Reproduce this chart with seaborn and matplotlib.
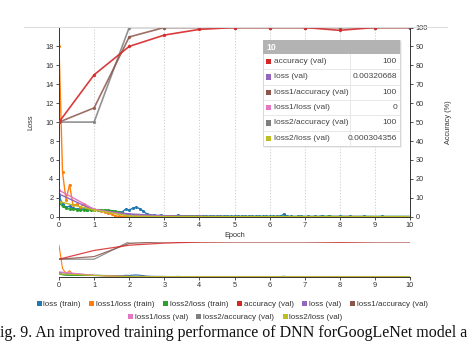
import numpy as np
import pandas as pd
import matplotlib
matplotlib.use("Agg")
import matplotlib.pyplot as plt
from matplotlib.patches import Rectangle
from matplotlib.lines import Line2D
import seaborn as sns

sns.set_theme(style="white")
plt.rcParams['font.family'] = ['Liberation Sans', 'DejaVu Sans']

# ---------------- data ----------------
train_epoch = [round(0.1 * i, 1) for i in range(101)]
loss_train = [2.2, 1.3, 1.0, 1.1, 0.9, 0.8, 0.85, 0.8, 0.75, 0.8,
              0.7, 0.75, 0.7, 0.6, 0.65, 0.55, 0.5, 0.45, 0.5, 0.8,
              0.7, 0.9, 1.0, 0.85, 0.6, 0.3, 0.2, 0.15, 0.12, 0.15,
              0.1, 0.1, 0.08, 0.09, 0.15, 0.08, 0.07, 0.08, 0.06, 0.07,
              0.05, 0.06, 0.05, 0.05, 0.06, 0.04, 0.05, 0.04, 0.05, 0.04,
              0.04, 0.05, 0.04, 0.03, 0.04, 0.04, 0.03, 0.04, 0.03, 0.04,
              0.03, 0.03, 0.04, 0.03, 0.25, 0.03, 0.03, 0.02, 0.03, 0.03,
              0.02, 0.03, 0.02, 0.03, 0.02, 0.1, 0.02, 0.03, 0.02, 0.02,
              0.03, 0.02, 0.02, 0.03, 0.02, 0.02, 0.02, 0.03, 0.02, 0.02,
              0.02, 0.02, 0.03, 0.02, 0.02, 0.02, 0.02, 0.02, 0.02, 0.02,
              0.02]
loss1_loss_train = [18.0, 4.7, 1.8, 3.4, 1.2, 1.3, 1.0, 1.3, 0.9, 0.8,
                    0.75, 0.7, 0.6, 0.5, 0.4, 0.25, 0.1, 0.03, 0.02, 0.02,
                    0.02, 0.01, 0.01, 0.01, 0.01, 0.01, 0.01, 0.01, 0.01, 0.01,
                    0.01, 0.01, 0.01, 0.01, 0.01, 0.01, 0.01, 0.01, 0.01, 0.01,
                    0.0, 0.0, 0.0, 0.0, 0.0, 0.0, 0.0, 0.0, 0.0, 0.0,
                    0.0, 0.0, 0.0, 0.0, 0.0, 0.0, 0.0, 0.0, 0.0, 0.0,
                    0.0, 0.0, 0.0, 0.0, 0.0, 0.0, 0.0, 0.0, 0.0, 0.0,
                    0.0, 0.0, 0.0, 0.0, 0.0, 0.0, 0.0, 0.0, 0.0, 0.0,
                    0.0, 0.0, 0.0, 0.0, 0.0, 0.0, 0.0, 0.0, 0.0, 0.0,
                    0.0, 0.0, 0.0, 0.0, 0.0, 0.0, 0.0, 0.0, 0.0, 0.0,
                    0.0]
loss2_loss_train = [1.5, 1.1, 0.9, 0.8, 0.8, 0.75, 0.72, 0.7, 0.72, 0.7,
                    0.7, 0.68, 0.7, 0.72, 0.68, 0.65, 0.6, 0.5, 0.4, 0.3,
                    0.2, 0.15, 0.1, 0.08, 0.06, 0.05, 0.05, 0.04, 0.04, 0.04,
                    0.03, 0.03, 0.03, 0.03, 0.03, 0.03, 0.03, 0.03, 0.03, 0.03,
                    0.02, 0.02, 0.02, 0.02, 0.02, 0.02, 0.02, 0.02, 0.02, 0.02,
                    0.02, 0.02, 0.02, 0.02, 0.02, 0.02, 0.02, 0.02, 0.02, 0.02,
                    0.02, 0.02, 0.02, 0.02, 0.02, 0.02, 0.02, 0.02, 0.02, 0.02,
                    0.02, 0.02, 0.02, 0.02, 0.02, 0.02, 0.02, 0.08, 0.02, 0.02,
                    0.02, 0.02, 0.02, 0.02, 0.02, 0.02, 0.02, 0.02, 0.02, 0.02,
                    0.02, 0.02, 0.02, 0.02, 0.02, 0.02, 0.02, 0.02, 0.02, 0.02,
                    0.02]

val_epoch = [0, 1, 2, 3, 4, 5, 6, 7, 8, 9, 10]
accuracy_val = [50, 75, 90, 96, 99, 100, 100, 100, 98.5, 100, 100]
loss_val = [2.4, 0.7, 0.3, 0.1, 0.05, 0.02, 0.01, 0.01, 0.02, 0.005, 0.0032]
loss1_accuracy_val = [50, 57.5, 95, 100, 100, 100, 100, 100, 100, 100, 100]
loss1_loss_val = [2.8, 0.8, 0.1, 0.02, 0.0, 0.0, 0.0, 0.0, 0.0, 0.0, 0.0]
loss2_accuracy_val = [50, 50, 100, 100, 100, 100, 100, 100, 100, 100, 100]
loss2_loss_val = [1.6, 0.7, 0.05, 0.01, 0.005, 0.002, 0.001, 0.001, 0.001, 0.0005, 0.0003]

legend_labels = ["loss (train)", "loss1/loss (train)", "loss2/loss (train)",
                 "accuracy (val)", "loss (val)", "loss1/accuracy (val)",
                 "loss1/loss (val)", "loss2/accuracy (val)", "loss2/loss (val)"]
colors = ["#1f77b4", "#ff7f0e", "#2ca02c", "#d62728", "#9467bd",
          "#8c564b", "#e377c2", "#7f7f7f", "#bcbd22"]

tooltip_title = "10"
tooltip_labels = ["accuracy (val)", "loss (val)", "loss1/accuracy (val)",
                  "loss1/loss (val)", "loss2/accuracy (val)", "loss2/loss (val)"]
tooltip_values = ["100", "0.00320668", "100", "0", "100", "0.000304356"]
tooltip_colors = ["#d62728", "#9467bd", "#8c564b", "#e377c2", "#7f7f7f", "#bcbd22"]

x_ticks = list(range(11))
loss_ticks = [0, 2, 4, 6, 8, 10, 12, 14, 16, 18]
acc_ticks = [0, 10, 20, 30, 40, 50, 60, 70, 80, 90, 100]
caption = "ig. 9. An improved training performance of DNN forGoogLeNet model a"

# ---------------- layout helpers ----------------
W, H = 474, 349
fig = plt.figure(figsize=(W / 100, H / 100), dpi=100)
fig.patch.set_facecolor("white")


def fx(px):
    return px / W


def fy(py):
    return 1 - py / H


def axes_px(l, t, r, b):
    return [fx(l), fy(b), fx(r) - fx(l), fy(t) - fy(b)]


tick_fs = 5.3
ax = fig.add_axes(axes_px(59, 27.5, 410, 216.7))
ax2 = ax.twinx()

loss_series = [(train_epoch, loss_train, 0), (train_epoch, loss1_loss_train, 1),
               (train_epoch, loss2_loss_train, 2)]
loss_val_series = [(val_epoch, loss_val, 4), (val_epoch, loss1_loss_val, 6),
                   (val_epoch, loss2_loss_val, 8)]
acc_series = [(val_epoch, accuracy_val, 3), (val_epoch, loss1_accuracy_val, 5),
              (val_epoch, loss2_accuracy_val, 7)]

for xs, ys, ci in loss_series + loss_val_series:
    sns.lineplot(x=xs, y=ys, ax=ax, color=colors[ci], linewidth=1.0,
                 marker="o", markersize=2.2, markeredgewidth=0, legend=False)
for xs, ys, ci in [acc_series[2], acc_series[1], acc_series[0]]:
    sns.lineplot(x=xs, y=ys, ax=ax2, color=colors[ci], linewidth=1.2,
                 marker="o", markersize=2.4, markeredgewidth=0, legend=False,
                 alpha=0.85 if ci != 3 else 0.9)

ax.set_xlim(0, 10)
ax.set_ylim(0, 20)
ax2.set_ylim(0, 100)
ax.set_xticks(x_ticks)
ax.set_yticks(loss_ticks)
ax2.set_yticks(acc_ticks)
for a in (ax, ax2):
    a.tick_params(labelsize=tick_fs, length=2.5, width=0.6, pad=1.5,
                  colors="#333333")
    for s in a.spines.values():
        s.set_visible(False)
ax.tick_params(axis="x", bottom=True, length=2.5)
ax.tick_params(axis="y", left=True)
ax2.tick_params(axis="y", right=True)
ax.spines["left"].set_visible(True)
ax.spines["bottom"].set_visible(True)
ax2.spines["right"].set_visible(True)
for s in [ax.spines["left"], ax.spines["bottom"], ax2.spines["right"]]:
    s.set_color("#333333")
    s.set_linewidth(0.7)
for xv in x_ticks[1:-1]:
    ax.axvline(xv, color="#c8c8c8", linestyle=(0, (1.5, 2)), linewidth=0.6, zorder=0)
ax.set_xlabel("Epoch", fontsize=5.3, labelpad=2, color="#333333")
ax.set_ylabel("Loss", fontsize=5.3, labelpad=8, color="#333333")
ax2.set_ylabel("Accuracy (%)", fontsize=5.3, labelpad=12, color="#333333",
               rotation=90)
ax.grid(False)
ax2.grid(False)

# top light line
fig.add_artist(Line2D([fx(24), fx(447)], [fy(26.5), fy(26.5)], color="#dddddd",
                      linewidth=0.8))

# ---------------- overview ----------------
ax3 = fig.add_axes(axes_px(59, 241.7, 410, 276.7))
ax4 = ax3.twinx()
for xs, ys, ci in loss_series + loss_val_series:
    sns.lineplot(x=xs, y=ys, ax=ax3, color=colors[ci], linewidth=0.8,
                 legend=False)
for xs, ys, ci in [acc_series[2], acc_series[1], acc_series[0]]:
    sns.lineplot(x=xs, y=ys, ax=ax4, color=colors[ci], linewidth=0.9,
                 legend=False, alpha=0.85)
ax3.set_xlim(0, 10)
ax3.set_ylim(0, 20)
ax4.set_ylim(0, 100)
ax3.set_xticks(x_ticks)
ax3.set_yticks([])
ax4.set_yticks([])
for a in (ax3, ax4):
    for s in a.spines.values():
        s.set_visible(False)
    a.grid(False)
ax3.spines["bottom"].set_visible(True)
ax3.spines["bottom"].set_color("#333333")
ax3.spines["bottom"].set_linewidth(0.7)
ax3.tick_params(axis="x", bottom=True, labelsize=tick_fs, length=2.5, width=0.6,
                pad=1.5, colors="#333333")

# ---------------- legend ----------------
handles = [Line2D([], [], linestyle="none", marker="s", markersize=3.6,
                  markerfacecolor=c, markeredgewidth=0) for c in colors]
leg1 = fig.legend(handles[:6], legend_labels[:6], loc="center",
                  bbox_to_anchor=(fx(232), fy(304)), ncol=6, frameon=False,
                  fontsize=5.8, handlelength=0.6, handletextpad=0.3,
                  columnspacing=1.0, borderpad=0, labelcolor="#333333")
leg2 = fig.legend(handles[6:], legend_labels[6:], loc="center",
                  bbox_to_anchor=(fx(235), fy(317)), ncol=3, frameon=False,
                  fontsize=5.8, handlelength=0.6, handletextpad=0.3,
                  columnspacing=1.0, borderpad=0, labelcolor="#333333")

# ---------------- tooltip ----------------
bx0, bx1, by0, by1 = 262.7, 400, 40, 146
fig.add_artist(Rectangle((fx(bx0 + 1.5), fy(by1 + 2)), fx(bx1 - bx0), fy(by0) - fy(by1),
                         facecolor="#000000", alpha=0.06, edgecolor="none"))
fig.add_artist(Rectangle((fx(bx0), fy(by1)), fx(bx1 - bx0), fy(by0) - fy(by1),
                         facecolor="white", edgecolor="#d0d0d0", linewidth=0.6))
fig.add_artist(Rectangle((fx(bx0), fy(54)), fx(bx1 - bx0), fy(by0) - fy(54),
                         facecolor="#b3b3b3", edgecolor="none"))
fig.text(fx(266), fy(47), tooltip_title, color="white", fontsize=6.2,
         va="center", ha="left", fontweight="bold")
row_h = (by1 - 54) / 6
for i, (lab, val, c) in enumerate(zip(tooltip_labels, tooltip_values, tooltip_colors)):
    top = 54 + i * row_h
    cy = top + row_h / 2
    if i > 0:
        fig.add_artist(Line2D([fx(bx0), fx(bx1)], [fy(top), fy(top)],
                              color="#e4e4e4", linewidth=0.6))
    fig.add_artist(Rectangle((fx(266), fy(cy + 2.6)), fx(5.2), fy(cy - 2.6) - fy(cy + 2.6),
                             facecolor=c, edgecolor="none"))
    fig.text(fx(274.5), fy(cy), lab, fontsize=6.0, va="center", ha="left",
             color="#444444")
    fig.text(fx(397), fy(cy), val, fontsize=6.0, va="center", ha="right",
             color="#444444")
fig.add_artist(Line2D([fx(350), fx(350)], [fy(54), fy(by1)], color="#e4e4e4",
                      linewidth=0.6))

# ---------------- caption ----------------
fig.text(fx(0), fy(333), caption, fontsize=11.5, family=["Liberation Serif", "DejaVu Serif"],
         va="center", ha="left", color="#111111")

fig.savefig("out.png", dpi=100, facecolor="white")
